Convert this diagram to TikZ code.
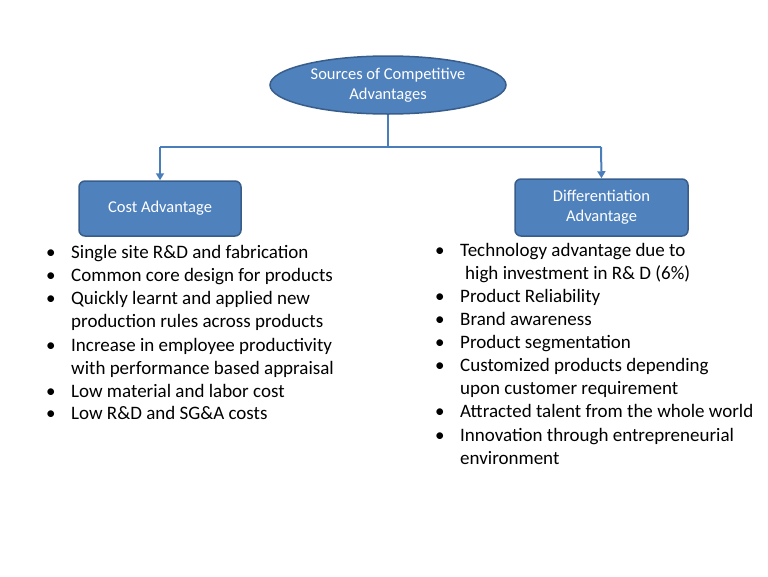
\documentclass[tikz,border=0pt]{standalone}
\usepackage{fontspec}
\setmainfont{Carlito}
\usetikzlibrary{shapes.geometric,arrows.meta}
\begin{document}
\begin{tikzpicture}[x=1pt,y=-1pt,
  blue/.style={fill={rgb,255:red,79;green,129;blue,189},draw={rgb,255:red,56;green,93;blue,138},line width=1.5pt,text=white,font=\fontsize{16.5}{20}\selectfont,align=center},
  conn/.style={draw={rgb,255:red,74;green,126;blue,187},line width=2pt},
  arr/.style={conn,-{Triangle[length=7pt,width=8pt]}},
  item/.style={anchor=west,inner sep=0pt,text height=13pt,text depth=4pt,font=\fontsize{19}{22}\selectfont}]
\useasboundingbox (0,0) rectangle (768,576);
\node[blue,ellipse,minimum width=236,minimum height=58,inner sep=0pt] (root) at (388,85) {Sources of Competitive\\Advantages};
\node[blue,rounded corners=6pt,minimum width=162,minimum height=55] (cost) at (160,208.5) {Cost Advantage};
\node[blue,rounded corners=6pt,minimum width=173,minimum height=57] (diff) at (601.5,207.5) {Differentiation\\Advantage};
\coordinate (j) at (388,147);
\coordinate (l) at (160,147);
\coordinate (r) at (601,147);
\draw[conn] (root.south) -- (j);
\draw[conn] (l) -- (r);
\draw[arr] (l) -- (cost.north);
\draw[arr] (r) -- (diff.north);
\foreach \t/\y in {Single site R\&D and fabrication/254, Common core design for products/277, Quickly learnt and applied new/300, Increase in employee productivity/347, Low material and labor cost/393, Low R\&D and SG\&A costs/415}
  {\node[item] at (46,\y) {•}; \node[item] at (71,\y) {\t};}
\node[item] (c1) at (71,323) {production rules across products};
\node[item] (c2) at (71,370) {with performance based appraisal};
\foreach \t/\y in {Technology advantage due to/252, Product Reliability/298, Brand awareness/321, Product segmentation/344, Customized products depending/367, Attracted talent from the whole world/413, Innovation through entrepreneurial/437}
  {\node[item] at (435,\y) {•}; \node[item] at (460,\y) {\t};}
\node[item] (d1) at (465,275) {high investment in R\& D (6\%)};
\node[item] (d2) at (460,390) {upon customer requirement};
\node[item] (d3) at (460,460) {environment};
\end{tikzpicture}
\end{document}
